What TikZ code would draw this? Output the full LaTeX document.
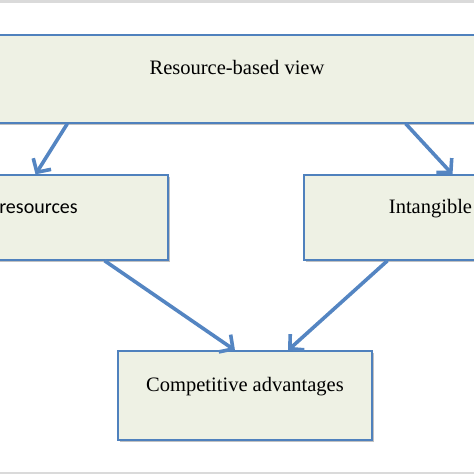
\documentclass[tikz,border=0pt]{standalone}
\usepackage{fontspec}
\setmainfont{Liberation Serif}
\newfontfamily\calibrifont{Carlito}
\usepackage{tikz}
\usetikzlibrary{arrows.meta,shadows}
\definecolor{boxBlue}{HTML}{4F81BD}
\definecolor{boxFill}{HTML}{EEF1E4}
\definecolor{arrBlue}{HTML}{5485C2}
\definecolor{barGray}{HTML}{DADADA}

\begin{document}
\begin{tikzpicture}[
  x=1pt, y=-1pt,
  box/.style={
    draw=boxBlue, fill=boxFill, line width=1.3pt,
    minimum width=#1, minimum height=86pt,
    text height=14pt, text depth=23pt,
    font=\fontsize{20.5}{24}\selectfont,
    inner sep=0pt,
    drop shadow={shadow xshift=1.5pt, shadow yshift=-2pt, opacity=0.35, fill=black!70},
  },
  arr/.style={-{Straight Barb[length=10pt, width=21pt]}, line width=3.6pt, arrBlue},
]
\useasboundingbox (0,0) rectangle (474,474);
\clip (0,0) rectangle (474,474);

% Frame bars
\fill[barGray] (0,0) rectangle (474,2.5);
\fill[barGray] (0,471.5) rectangle (474,474);

% Top: view
\node[box=494pt, minimum height=88pt] (rbv) at (237,79)
  {Resource-based view};

% Middle: the two kinds of resources
\node[box=259pt, minimum height=85pt,
  font=\calibrifont\fontsize{20}{24}\selectfont] (tang) at (38.5,217.5)
  {resources};
\node[box=253pt, minimum height=85pt] (intang) at (430.5,217.5)
  {Intangible};

% Bottom: outcome
\node[box=254pt, minimum height=89pt] (comp) at (245,395.5)
  {Competitive advantages};

% Arrows
\draw[arr] ([xshift=78pt]rbv.south west) -- ([xshift=-3pt]tang.north);
\draw[arr] ([xshift=-79pt]rbv.south east) -- ([xshift=22pt]intang.north);
\draw[arr] ([xshift=66pt]tang.south) -- ([xshift=-10pt]comp.north);
\draw[arr] ([xshift=-43pt]intang.south) -- ([xshift=43pt]comp.north);

\end{tikzpicture}
\end{document}
